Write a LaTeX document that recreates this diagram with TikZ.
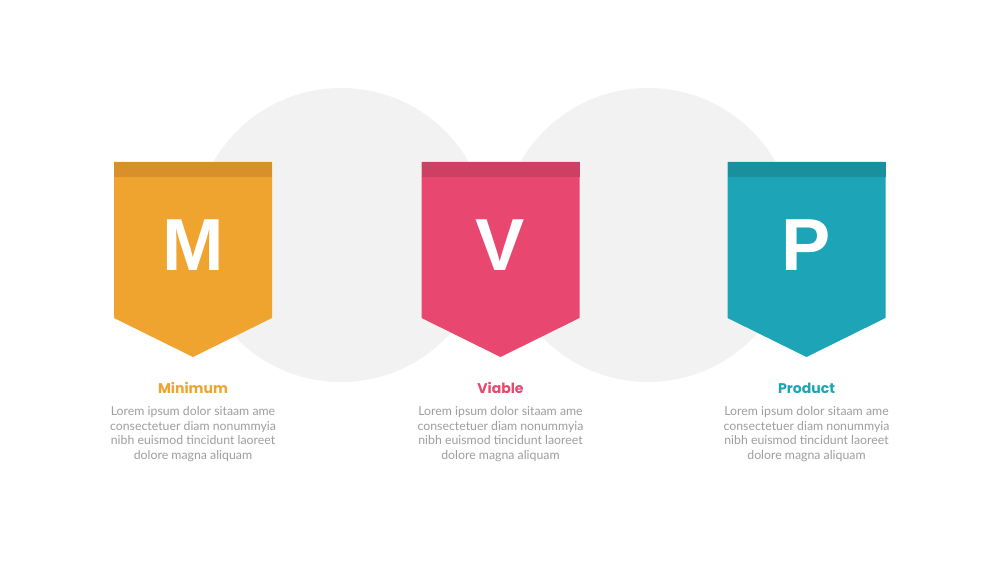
\documentclass[tikz,border=0pt]{standalone}
\usepackage{fontspec}
\setmainfont{Lato}
\newfontfamily\titlefont{Poppins}
\newfontfamily\letterfont{Liberation Sans}
\definecolor{cOr}{HTML}{F0A430}
\definecolor{cOrD}{HTML}{D98F2A}
\definecolor{cPk}{HTML}{E8486F}
\definecolor{cPkD}{HTML}{CC4163}
\definecolor{cTl}{HTML}{1DA5B7}
\definecolor{cTlD}{HTML}{1A8F9D}
\definecolor{cCirc}{HTML}{F2F2F2}
\definecolor{cBody}{HTML}{9E9E9E}
\tikzset{
  letter/.style={text=white, font=\letterfont\bfseries\fontsize{42}{42}\selectfont, anchor=base, inner sep=0pt},
  ttl/.style={font=\titlefont\bfseries\fontsize{8}{9.6}\selectfont, anchor=base, inner sep=0pt},
  body/.style={text=cBody, font=\fontsize{7}{8.33}\selectfont, align=center, anchor=north, inner sep=0pt},
  circ/.style={fill=cCirc, draw=none}
}
\newcommand{\banner}[3]{%
  \fill[#2] (#1-79,162) -- (#1+79,162) -- (#1+79,318) -- (#1,357) -- (#1-79,318) -- cycle;
  \fill[#3] (#1-79,162) rectangle (#1+79,177);
}
\begin{document}
\begin{tikzpicture}[x=0.02cm,y=-0.02cm]
\useasboundingbox[fill=white] (0,0) rectangle (1000,563);
% background circles
\fill[circ] (341,235) circle (147);
\fill[circ] (648,235) circle (147);
% banners
\banner{193}{cOr}{cOrD}
\banner{500.5}{cPk}{cPkD}
\banner{806.5}{cTl}{cTlD}
% letters
\node[letter] (lm) at (193,271) {M};
\node[letter] (lv) at (500.5,271) {V};
\node[letter] (lp) at (806.5,271) {P};
% titles
\node[ttl, text=cOr] (tm) at (193,394) {Minimum};
\node[ttl, text=cPk] (tv) at (500.5,394) {Viable};
\node[ttl, text=cTl] (tp) at (806.5,394) {Product};
% body texts
\node[body] (dm) at (193,406) {Lorem ipsum dolor sitaam ame\\consectetuer diam nonummyia\\nibh euismod tincidunt laoreet\\dolore magna aliquam};
\node[body] (dv) at (500.5,406) {Lorem ipsum dolor sitaam ame\\consectetuer diam nonummyia\\nibh euismod tincidunt laoreet\\dolore magna aliquam};
\node[body] (dp) at (806.5,406) {Lorem ipsum dolor sitaam ame\\consectetuer diam nonummyia\\nibh euismod tincidunt laoreet\\dolore magna aliquam};
\end{tikzpicture}
\end{document}
